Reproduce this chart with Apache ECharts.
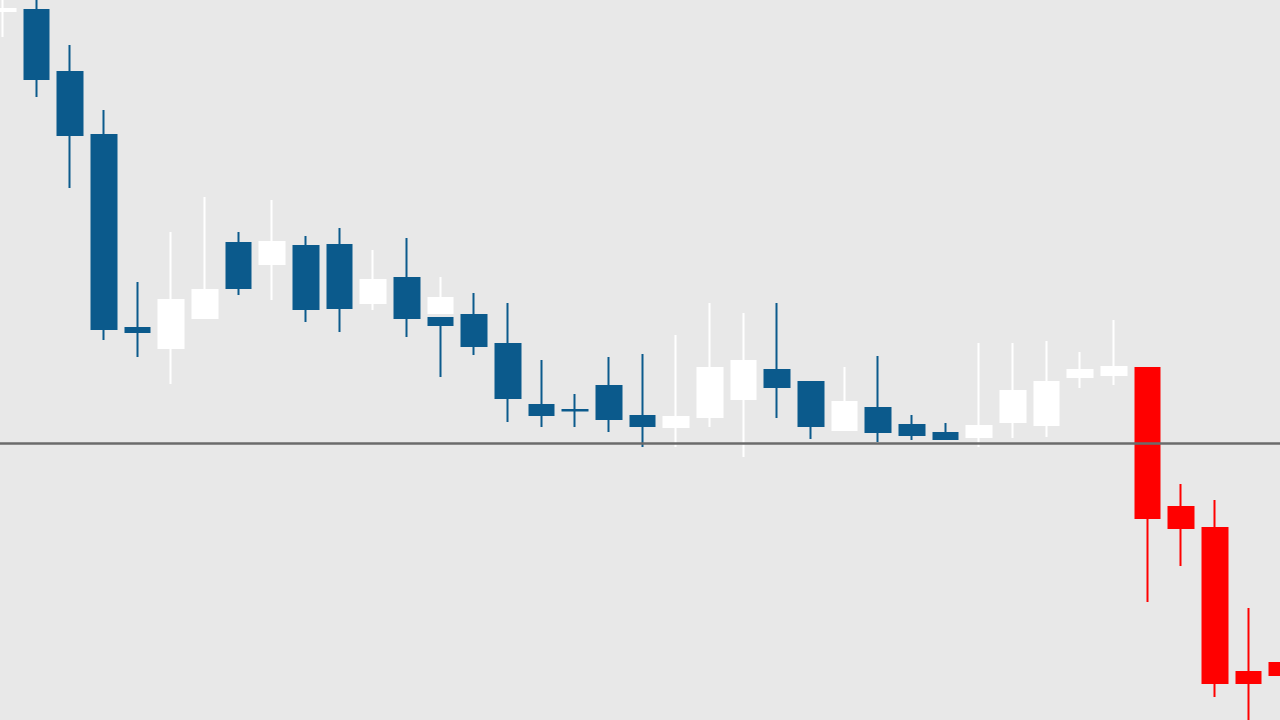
<!DOCTYPE html>
<html>
<head>
<meta charset="utf-8">
<script src="https://cdn.jsdelivr.net/npm/echarts@6/dist/echarts.min.js"></script>
<style>
html,body{margin:0;padding:0;background:#e8e8e8;}
#chart{width:1280px;height:720px;}
</style>
</head>
<body>
<div id="chart"></div>
<script>
// Categories (bar index)
var categories = [];
for (var i = 1; i <= 39; i++) categories.push(String(i));

// [open, close, low, high]
var mainCandles = [
  [170.9, 171.1, 168.3, 172.5],
  [171.0, 164.1, 162.3, 172.3],
  [164.8, 158.5, 153.2, 167.5],
  [158.5, 139.1, 138.0, 161.0],
  [139.2, 138.8, 136.3, 143.8],
  [137.2, 142.0, 133.6, 148.8],
  [140.2, 143.0, 140.2, 152.3],
  [147.7, 143.2, 142.5, 148.8],
  [145.6, 147.8, 142.0, 152.0],
  [147.4, 141.1, 139.8, 148.4],
  [147.5, 141.2, 138.8, 149.2],
  [141.7, 144.0, 141.0, 147.0],
  [144.2, 140.2, 138.3, 148.2],
  [140.2, 139.5, 134.3, 140.2],
  [140.5, 137.4, 136.5, 142.7],
  [137.6, 132.2, 129.8, 141.7],
  [131.5, 130.5, 129.3, 136.0],
  [131.0, 130.95, 129.3, 132.6],
  [133.4, 130.1, 128.8, 136.3],
  [130.4, 129.4, 127.3, 136.6],
  [129.3, 130.3, 127.3, 138.5],
  [130.3, 135.2, 129.3, 141.7],
  [132.1, 135.9, 126.3, 140.7],
  [135.0, 133.3, 130.2, 141.7],
  [133.8, 129.4, 128.1, 133.8],
  [129.0, 131.8, 129.0, 135.3],
  [131.2, 128.8, 127.8, 136.4],
  [129.5, 128.5, 128.0, 130.5],
  [128.7, 128.1, 128.1, 129.7],
  [128.3, 129.4, 127.3, 137.7],
  [129.8, 132.9, 128.2, 137.7],
  [129.5, 133.8, 128.3, 137.9],
  [134.3, 135.0, 133.2, 136.8],
  [134.5, 135.3, 133.5, 140.0]
];

// Candles drawn in red after the break of the level
var redCandles = [
  [135.2, 120.2, 111.8, 135.2],
  [121.3, 119.2, 115.4, 123.6],
  [119.2, 103.7, 102.3, 122.0],
  [104.8, 103.7, 98.0, 111.2],
  [105.7, 104.5, 103.0, 107.0]
];

// Overlapping ghost candle (index 13)
var overlayIndex = 13;
var overlayCandle = [140.7, 142.2, 140.7, 144.3];

// Support level (horizontal line)
var levelValue = 127.65;

var blue = '#0b5a8c';
var N = categories.length;

var mainData = [], redData = [], overlayData = [];
for (var j = 0; j < N; j++) {
  mainData.push(j < mainCandles.length ? mainCandles[j] : '-');
  redData.push(j >= mainCandles.length ? redCandles[j - mainCandles.length] : '-');
  overlayData.push(j === overlayIndex ? overlayCandle : '-');
}

var chart = echarts.init(document.getElementById('chart'), null, {renderer: 'canvas'});
chart.setOption({
  animation: false,
  backgroundColor: '#e8e8e8',
  grid: {left: -14, top: 0, width: 1313, height: 720, containLabel: false, outerBoundsMode: 'none'},
  xAxis: {
    type: 'category',
    data: categories,
    boundaryGap: true,
    show: false
  },
  yAxis: {
    type: 'value',
    min: 100,
    max: 172,
    show: false,
    splitLine: {show: false}
  },
  series: [
    {
      type: 'candlestick',
      data: mainData,
      barWidth: 25,
      itemStyle: {
        color: '#ffffff',
        color0: blue,
        borderColor: '#ffffff',
        borderColor0: blue,
        borderWidth: 2
      },
      markLine: {
        silent: true,
        symbol: ['none', 'none'],
        label: {show: false},
        lineStyle: {color: '#6b6b6b', width: 2.5, type: 'solid'},
        data: [{yAxis: levelValue}]
      }
    },
    {
      type: 'candlestick',
      data: overlayData,
      barWidth: 25,
      itemStyle: {
        color: '#ffffff',
        color0: blue,
        borderColor: '#ffffff',
        borderColor0: blue,
        borderWidth: 2
      }
    },
    {
      type: 'candlestick',
      data: redData,
      barWidth: 25,
      z: 3,
      itemStyle: {
        color: '#ff0000',
        color0: '#ff0000',
        borderColor: '#ff0000',
        borderColor0: '#ff0000',
        borderWidth: 2
      }
    }
  ]
});
</script>
</body>
</html>
